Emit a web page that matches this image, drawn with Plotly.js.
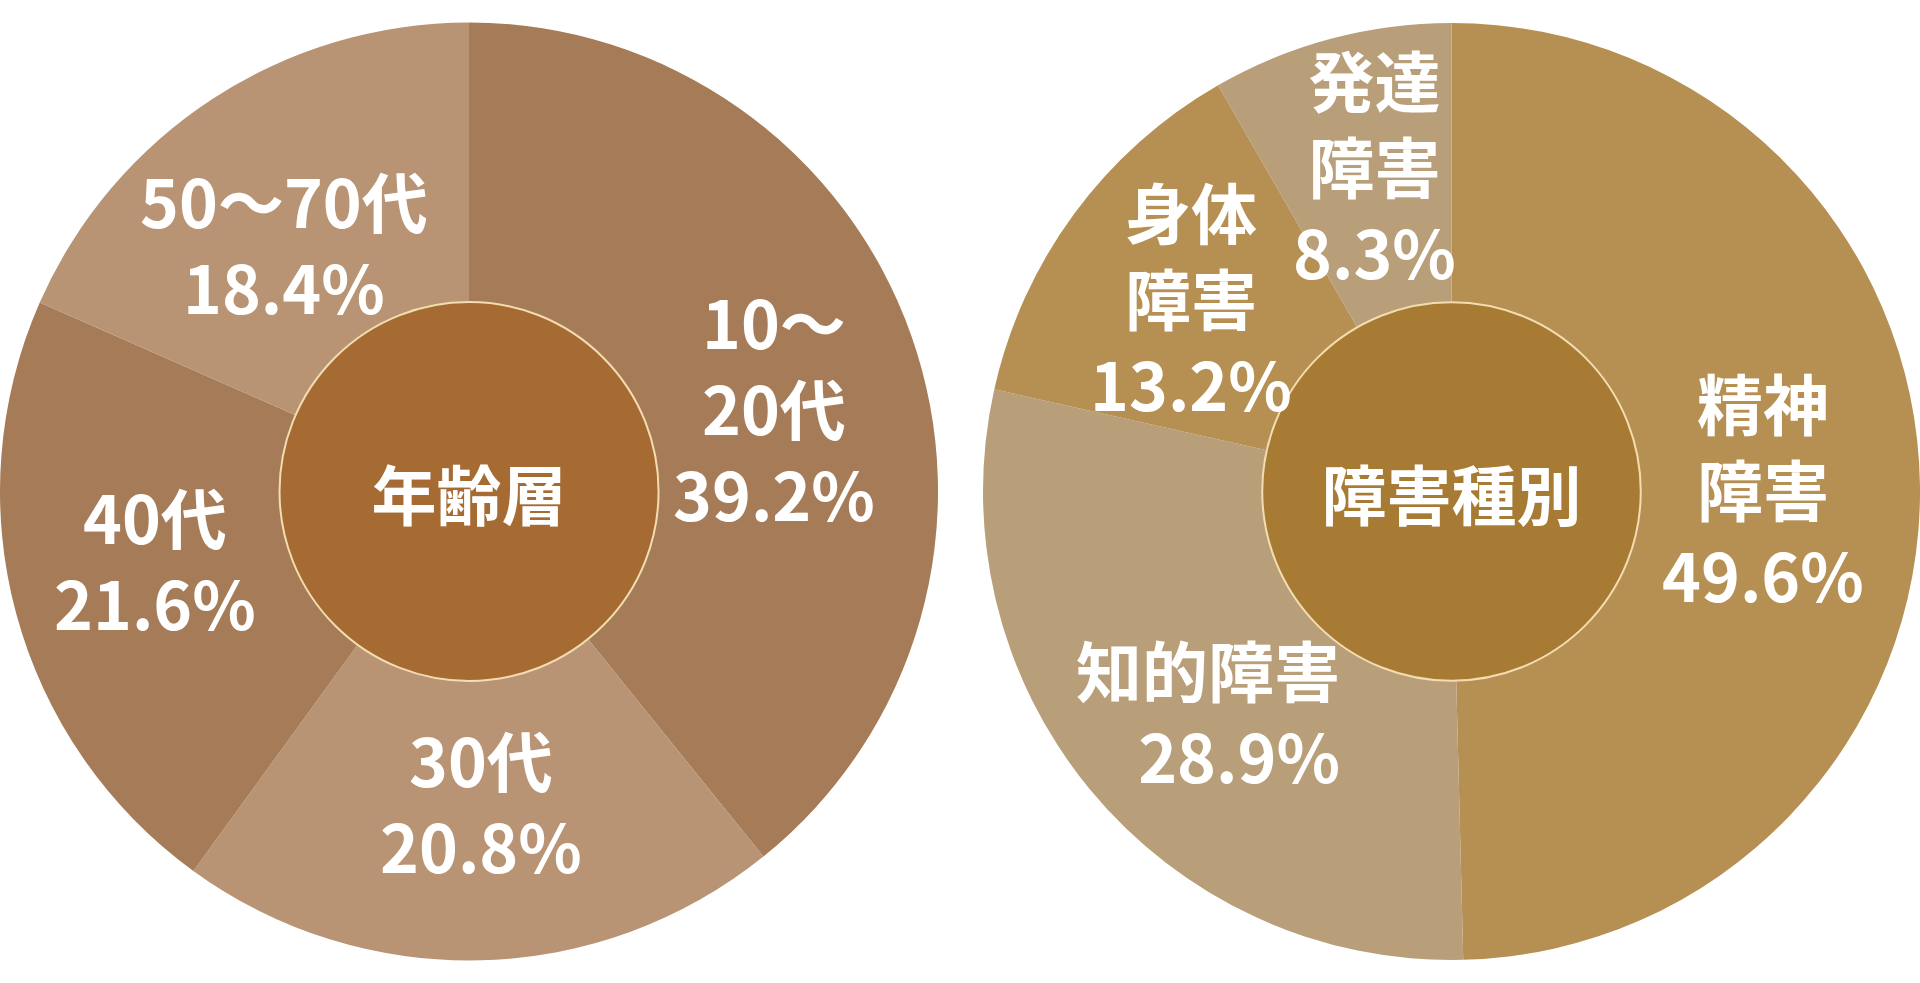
<!DOCTYPE html>
<html>
<head>
<meta charset="utf-8">
<script src="https://cdn.plot.ly/plotly-3.0.1.min.js"></script>
<style>
html,body{margin:0;padding:0;background:#fff;overflow:hidden;}
#chart{width:1920px;height:983px;}
</style>
</head>
<body>
<div id="chart"></div>
<script>
// ---- data ----
const ageCategories = ["10～<br>20代", "30代", "40代", "50～70代"];
const ageValues = [39.2, 20.8, 21.6, 18.4];
const ageTitle = "年齢層";

const typeCategories = ["精神<br>障害", "知的障害", "身体<br>障害", "発達<br>障害"];
const typeValues = [49.6, 28.9, 13.2, 8.3];
const typeTitle = "障害種別";

// ---- styling ----
const W = 1920, H = 983;
const FONT = '"Noto Sans CJK JP", "Noto Sans", sans-serif';
const ageColors = ["#A67C58", "#B89474", "#A67C58", "#B89474"];
const ageCenter = "#A66B33";
const typeColors = ["#B68F53", "#B89F7A", "#B68F53", "#B89F7A"];
const typeCenter = "#A87B34";
const HOLE = 0.404;
const LABEL_R = 0.69;
// small label nudges in pixels [xshift, yshift] and line alignment
const ageNudge = [[0, -22], [4, 14], [-2, 18], [-8, -22]];
const typeNudge = [[-12, 0], [6, -14], [0, 4], [6, 15]];
const ageAlign = ["center", "center", "center", "center"];
const typeAlign = ["center", "right", "center", "center"];

const leftDom = [0, 938 / W];
const rightDom = [983 / W, 1920 / W];

function pieSet(dom, values, cats, colors, centerColor, title, nudge, aligns) {
  const wpx = (dom[1] - dom[0]) * W;
  const r = Math.min(wpx, H) / 2;
  const cx = (dom[0] + dom[1]) / 2 * W;
  const cy = H / 2;
  const ring = {
    type: "pie", values: values, labels: cats, sort: false, direction: "clockwise",
    rotation: 0, hole: HOLE, textinfo: "none", hoverinfo: "label+value",
    marker: {colors: colors, line: {width: 0}}, domain: {x: dom, y: [0, 1]},
    showlegend: false
  };
  const rc = r * HOLE;
  const center = {
    type: "pie", values: [1], labels: [title], sort: false, textinfo: "text",
    text: [title], textposition: "inside", insidetextorientation: "horizontal",
    textfont: {family: FONT, size: 65, color: "#ffffff", weight: "bold"},
    hoverinfo: "skip",
    marker: {colors: [centerColor], line: {color: "#F3DDB0", width: 2}},
    domain: {x: [(cx - rc) / W, (cx + rc) / W], y: [0.5 - rc / H, 0.5 + rc / H]},
    showlegend: false
  };
  const total = values.reduce((a, b) => a + b, 0);
  let cum = 0;
  const anns = [];
  values.forEach((v, i) => {
    const mid = (cum + v / 2) / total * 2 * Math.PI;
    cum += v;
    const px = cx + r * LABEL_R * Math.sin(mid);
    const py = cy - r * LABEL_R * Math.cos(mid);
    anns.push({
      xref: "paper", yref: "paper", x: px / W, y: 1 - py / H,
      xshift: nudge[i][0], yshift: nudge[i][1],
      xanchor: "center", yanchor: "middle", showarrow: false,
      text: cats[i] + "<br>" + v.toFixed(1) + "%",
      font: {family: FONT, size: 66, color: "#ffffff", weight: "bold"},
      align: aligns[i]
    });
  });
  return {traces: [ring, center], anns: anns};
}

const L = pieSet(leftDom, ageValues, ageCategories, ageColors, ageCenter, ageTitle, ageNudge, ageAlign);
const R = pieSet(rightDom, typeValues, typeCategories, typeColors, typeCenter, typeTitle, typeNudge, typeAlign);

Plotly.newPlot("chart", L.traces.concat(R.traces), {
  width: W, height: H,
  margin: {l: 0, r: 0, t: 0, b: 0},
  paper_bgcolor: "#ffffff", plot_bgcolor: "#ffffff",
  font: {family: FONT},
  annotations: L.anns.concat(R.anns),
  showlegend: false
}, {displayModeBar: false, staticPlot: true});
</script>
</body>
</html>
